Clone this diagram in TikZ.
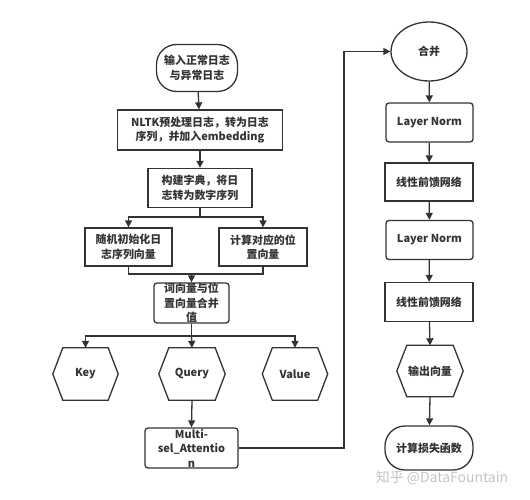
\documentclass[tikz,border=0pt]{standalone}
\usepackage{fontspec}
\setmainfont{Noto Sans CJK SC}
\usetikzlibrary{arrows.meta,shapes.geometric}
\definecolor{lc}{HTML}{333333}
\definecolor{wm}{HTML}{C4C4C4}
\begin{document}
\begin{tikzpicture}[x=1bp,y=-1bp,
  every node/.style={font=\fontsize{11}{14.5}\selectfont\bfseries, text=lc, align=center, inner sep=0pt},
  box/.style={draw=lc, line width=1.3bp, fill=white, minimum width=#1, minimum height=39bp},
  rbox/.style={box=#1, rounded corners=3bp},
  stad/.style={box=#1, rounded corners=20bp},
  hexn/.style={minimum width=65bp, minimum height=52bp},
  hexl/.style={draw=lc, line width=1.3bp},
  arr/.style={draw=lc, line width=1.3bp, -{Triangle[length=7bp,width=7bp]}},
  ln/.style={draw=lc, line width=1.3bp}]
\useasboundingbox[fill=white] (0,0) rectangle (530,500);

% left column
\node[stad=81bp, minimum height=47bp] (n1) at (197,68) {输入正常日志\\与异常日志};
\node[box=165bp, minimum height=40bp] (n2) at (200,130) {NLTK预处理日志，转为日志\\序列，并加入embedding};
\node[box=104bp] (n3) at (200,188) {构建字典，将日\\志转为数字序列};
\node[box=87bp, minimum height=38bp] (n4) at (128.5,247) {随机初始化日\\志序列向量};
\node[box=88bp, minimum height=38bp] (n5) at (263,247) {计算对应的位\\置向量};
\node[rbox=75bp, minimum height=40bp] (n6) at (191.5,303) {词向量与位\\置向量合并\\值};

\node[hexn] (key) at (85.5,374) {Key};
\node[hexn, minimum width=66bp] (query) at (192,374) {Query};
\node[hexn] (value) at (295,374) {Value};
\foreach \h in {key,query,value}{
  \draw[hexl] ([xshift=10bp]\h.north west) -- ([xshift=-10bp]\h.north east) -- (\h.east)
    -- ([xshift=-10bp]\h.south east) -- ([xshift=10bp]\h.south west) -- (\h.west) -- cycle;
}
\node[rbox=93bp, minimum height=40bp] (multi) at (191.5,448) {Multi-\\sel\_Attentio\\n};

% right column
\node[ellipse, draw=lc, line width=1.3bp, fill=white, minimum width=76bp, minimum height=59bp] (hb) at (429,51.5) {合并};
\node[rbox=87bp] (ln1) at (429.5,122.5) {Layer Norm};
\node[box=88bp, minimum height=38bp] (ff1) at (429,182) {线性前馈网络};
\node[rbox=87bp] (ln2) at (429.5,240) {Layer Norm};
\node[box=88bp] (ff2) at (429,302) {线性前馈网络};
\node[hexn, minimum width=66bp, minimum height=51bp] (out) at (430,371) {输出向量};
\draw[hexl] ([xshift=10bp]out.north west) -- ([xshift=-10bp]out.north east) -- (out.east)
    -- ([xshift=-10bp]out.south east) -- ([xshift=10bp]out.south west) -- (out.west) -- cycle;
\node[stad=88bp, minimum height=44bp] (loss) at (429,448) {计算损失函数};

% connectors
\coordinate (s1) at (200,217);
\coordinate (m1) at (191.5,274);
\coordinate (s2) at (191.5,336);
\coordinate (c1) at (344,250);

\draw[arr] (n1) -- (n2);
\draw[arr] (n2) -- (n3);
\draw[ln] (n3.south) -- (s1);
\draw[arr] (s1) -| (n4.north);
\draw[arr] (s1) -| (n5.north);
\draw[ln] (n4.south) |- (m1);
\draw[ln] (n5.south) |- (m1);
\draw[arr] (m1) -- (n6.north);
\draw[ln] (n6.south) -- (s2);
\draw[arr] (s2) -| (key.north);
\draw[arr] (s2) -| (value.north);
\draw[arr] (s2) -- (query.north);
\draw[arr] (query.south) -- (multi.north);
\draw[arr] (multi.east) -| (c1) |- (hb.west);
\draw[arr] (hb) -- (ln1);
\draw[arr] (ln1) -- (ff1);
\draw[arr] (ff1) -- (ln2);
\draw[arr] (ln2) -- (ff2);
\draw[arr] (ff2) -- (out.north);
\draw[arr] (out.south) -- (loss);

\node[font=\fontsize{14}{16}\selectfont, text=wm] (wmk) at (442,478) {知乎 @DataFountain};
\end{tikzpicture}
\end{document}
